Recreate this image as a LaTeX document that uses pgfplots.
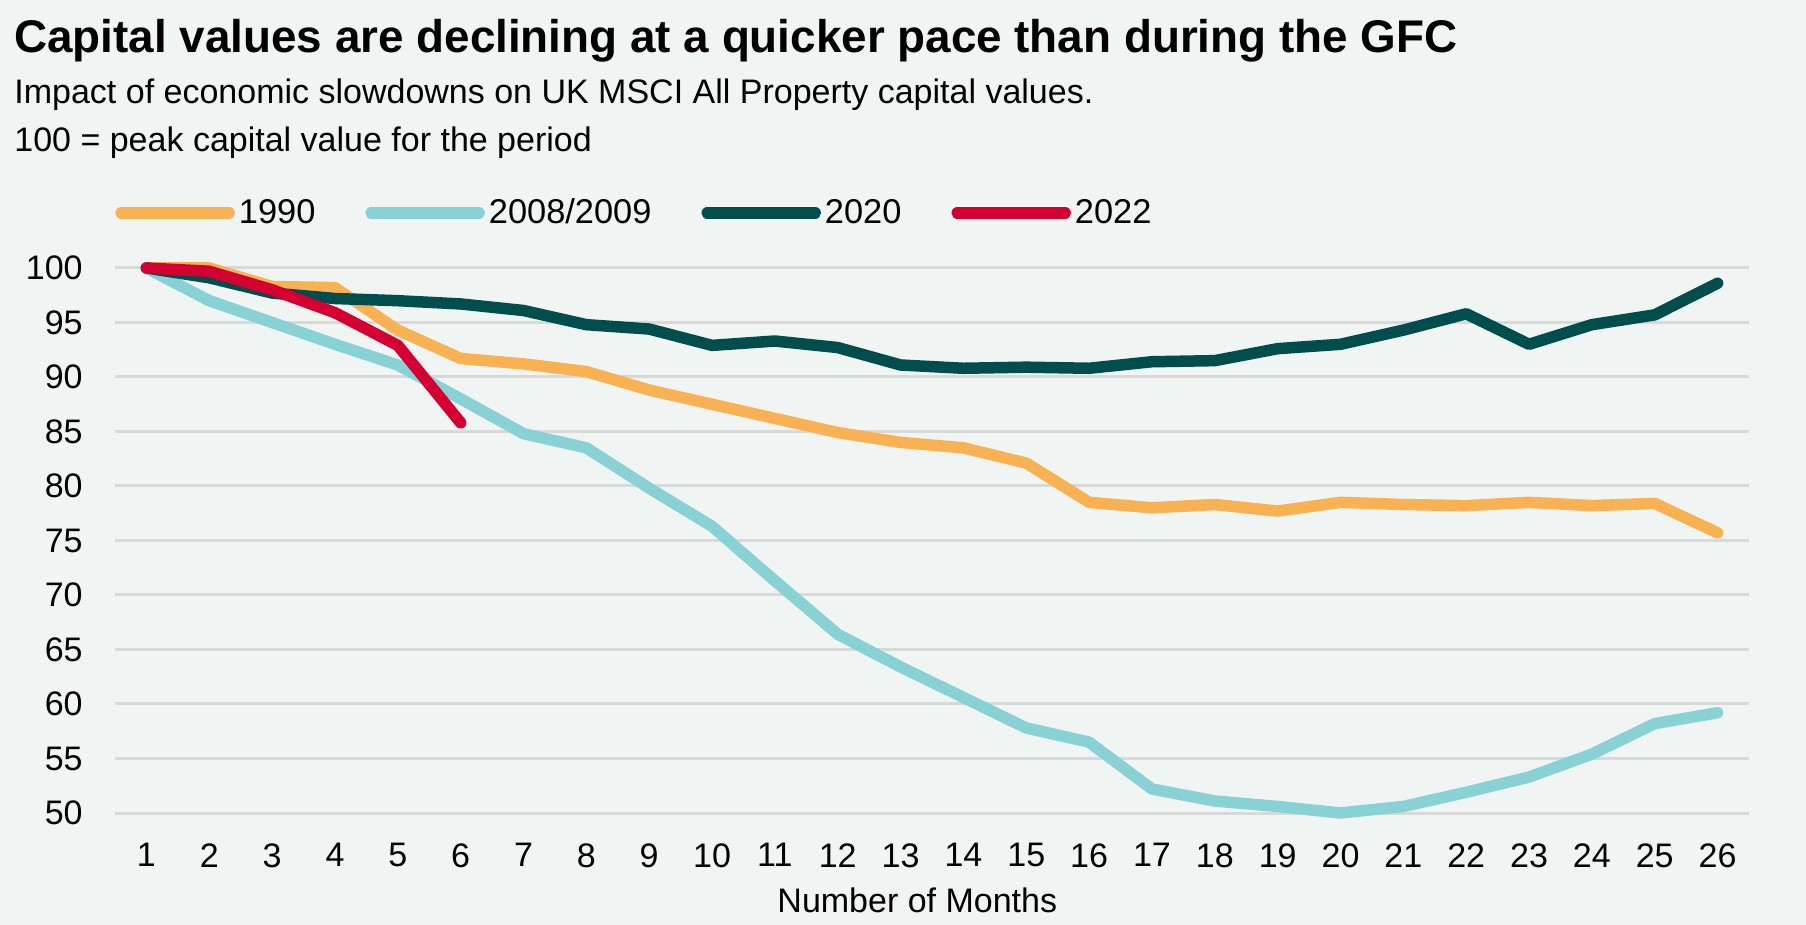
\documentclass[border=0pt]{standalone}
\usepackage{pgfplots}
\pgfplotsset{compat=1.18}
\usepackage{fontspec}
\setmainfont{Liberation Sans}

\definecolor{bg}{HTML}{F0F4F2}
\definecolor{gridc}{HTML}{D9D9D9}
\definecolor{c1990}{HTML}{F9B253}
\definecolor{c2008}{HTML}{88D1D5}
\definecolor{c2020}{HTML}{004D4E}
\definecolor{c2022}{HTML}{D50032}

\begin{document}
\begin{tikzpicture}
\fill[bg] (0,0) rectangle (903bp,462.5bp);
\node[anchor=base west, inner sep=0pt] at (7bp,436bp)
  {\bfseries\fontsize{22.9bp}{27bp}\selectfont Capital values are declining at a quicker pace than during the GFC};
\node[anchor=base west, inner sep=0pt] at (7bp,410.5bp)
  {\fontsize{17bp}{20bp}\selectfont Impact of economic slowdowns on UK MSCI All Property capital values.};
\node[anchor=base west, inner sep=0pt] at (7bp,386.5bp)
  {\fontsize{17bp}{20bp}\selectfont 100 = peak capital value for the period};

\begin{axis}[
    at={(57.5bp,56bp)}, anchor=south west,
    scale only axis,
    width=817bp, height=272.5bp,
    xmin=0.5, xmax=26.5,
    ymin=50, ymax=100,
    xtick={1,...,26},
    ytick={50,55,...,100},
    clip=false,
    axis line style={draw=none},
    major tick length=0pt,
    ymajorgrids=true,
    grid style={gridc, line width=1.5bp},
    /pgf/number format/assume math mode=true,
    tick label style={font=\fontsize{17bp}{20bp}\selectfont},
    yticklabel style={anchor=east, inner sep=0pt, xshift=-16bp},
    xticklabel style={anchor=north, inner sep=0pt, yshift=-15bp},
    xlabel={Number of Months},
    xlabel style={at={(axis description cs:0.491,0)}, anchor=north,
                  inner sep=0pt, yshift=-37bp,
                  font=\fontsize{17bp}{20bp}\selectfont},
    every axis plot/.append style={line width=5.75bp, line cap=round, line join=round},
    legend columns=4,
    legend style={at={(axis description cs:0,1.101)}, anchor=west,
                  draw=none, fill=none, inner sep=0pt,
                  font=\fontsize{17.2bp}{20bp}\selectfont,
                  /tikz/every even column/.append style={column sep=23bp}},
    legend cell align=left,
    legend image code/.code={\draw[#1, line cap=round] (0bp,0bp) -- (54bp,0bp);},
]
\addplot[c1990] coordinates {
 (1,100) (2,100) (3,98.3) (4,98.2) (5,94.3) (6,91.7) (7,91.2) (8,90.5)
 (9,88.8) (10,87.5) (11,86.2) (12,84.9) (13,84.0) (14,83.5) (15,82.1)
 (16,78.5) (17,78.0) (18,78.3) (19,77.7) (20,78.5) (21,78.3) (22,78.2)
 (23,78.5) (24,78.2) (25,78.4) (26,75.7)
};
\addplot[c2008] coordinates {
 (1,100) (2,97.0) (3,95.0) (4,93.0) (5,91.1) (6,88.0) (7,84.8) (8,83.5)
 (9,79.8) (10,76.3) (11,71.3) (12,66.4) (13,63.4) (14,60.6) (15,57.8)
 (16,56.5) (17,52.2) (18,51.1) (19,50.6) (20,50.0) (21,50.6) (22,51.9)
 (23,53.3) (24,55.4) (25,58.2) (26,59.2)
};
\addplot[c2020] coordinates {
 (1,100) (2,99.1) (3,97.7) (4,97.2) (5,97.0) (6,96.7) (7,96.1) (8,94.8)
 (9,94.4) (10,92.9) (11,93.3) (12,92.7) (13,91.1) (14,90.8) (15,90.9)
 (16,90.8) (17,91.4) (18,91.5) (19,92.6) (20,93.0) (21,94.3) (22,95.8)
 (23,93.0) (24,94.8) (25,95.7) (26,98.6)
};
\addplot[c2022] coordinates {
 (1,100) (2,99.7) (3,98.0) (4,95.9) (5,92.9) (6,85.8)
};
\legend{1990, 2008/2009, 2020, 2022}
\end{axis}
\end{tikzpicture}
\end{document}
